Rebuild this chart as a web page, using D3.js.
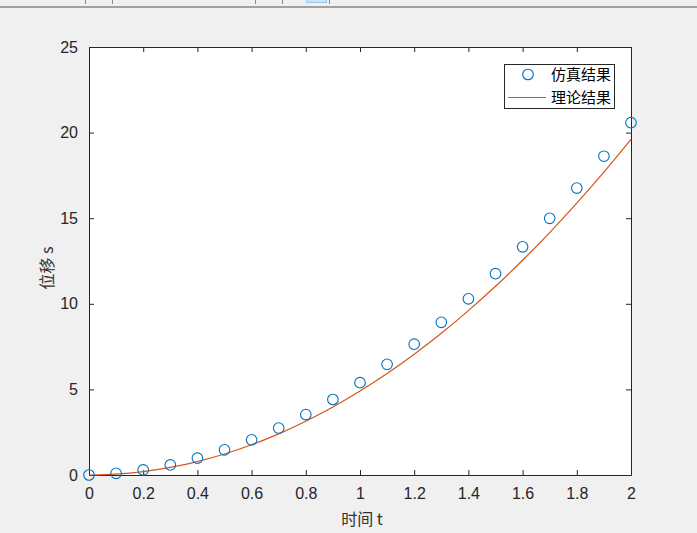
<!DOCTYPE html>
<html>
<head>
<meta charset="utf-8">
<script src="https://cdn.jsdelivr.net/npm/d3@7"></script>
<style>
body{margin:0;background:#f0f0f0;}
svg{display:block;}
</style>
</head>
<body>
<svg id="svg" width="697" height="533"></svg>
<script>
// time samples (s)
var tSim = [0,0.1,0.2,0.3,0.4,0.5,0.6,0.7,0.8,0.9,1.0,1.1,1.2,1.3,1.4,1.5,1.6,1.7,1.8,1.9,2.0];
// simulated displacement, read from the markers
var sSim = [0,0.098,0.294,0.588,0.98,1.47,2.058,2.744,3.528,4.41,5.39,6.468,7.644,8.918,10.29,11.76,13.328,14.994,16.758,18.62,20.58];
// theoretical displacement
var sTheory = [0,0.049,0.196,0.441,0.784,1.225,1.764,2.401,3.136,3.969,4.9,5.929,7.056,8.281,9.604,11.025,12.544,14.161,15.876,17.689,19.6];
var xTicks = [0,0.2,0.4,0.6,0.8,1,1.2,1.4,1.6,1.8,2];
var yTicks = [0,5,10,15,20,25];
var legendNames = ['仿真结果','理论结果'];

var pLeft = 89, pRight = 631, pTop = 47, pBottom = 475;
var axisColor = '#262626', simColor = '#0072bd', lineColor = '#d95319';
var numFont = '"Liberation Sans", Arial, sans-serif';
var cjkFont = '"Noto Sans CJK SC", sans-serif';

var s = d3.select('#svg');

// window toolbar remnants at the top
s.append('rect').attr('x',0).attr('y',6).attr('width',697).attr('height',2).attr('fill','#a0a0a0');
[85,112,255,282,329].forEach(function(x){
    s.append('rect').attr('x',x).attr('y',0).attr('width',1).attr('height',4).attr('fill','#8a8a8a');
});
s.append('rect').attr('x',306.5).attr('y',-1).attr('width',20).attr('height',3.5)
    .attr('fill','#cce4f7').attr('stroke','#99c9ef');

var x = d3.scaleLinear().domain([0,2]).range([pLeft,pRight]);
var y = d3.scaleLinear().domain([0,25]).range([pBottom,pTop]);

// plot area
s.append('rect').attr('x',pLeft).attr('y',pTop).attr('width',pRight-pLeft).attr('height',pBottom-pTop).attr('fill','white');

// axes with inward ticks, mirrored on top and right
function styleAxis(g){
    g.selectAll('path').attr('stroke',axisColor);
    g.selectAll('line').attr('stroke',axisColor);
    g.selectAll('text').attr('fill',axisColor).attr('font-family',numFont).attr('font-size',16);
}
var xAxis = s.append('g').attr('transform','translate(0,'+pBottom+')')
    .call(d3.axisBottom(x).tickValues(xTicks).tickSizeInner(-5).tickSizeOuter(0).tickPadding(13).tickFormat(d3.format('')));
styleAxis(xAxis);
var xTop = s.append('g').attr('transform','translate(0,'+pTop+')')
    .call(d3.axisTop(x).tickValues(xTicks).tickSizeInner(-5).tickSizeOuter(0).tickFormat(''));
styleAxis(xTop);
var yAxis = s.append('g').attr('transform','translate('+pLeft+',0)')
    .call(d3.axisLeft(y).tickValues(yTicks).tickSizeInner(-5).tickSizeOuter(0).tickPadding(11));
styleAxis(yAxis);
var yRight = s.append('g').attr('transform','translate('+pRight+',0)')
    .call(d3.axisRight(y).tickValues(yTicks).tickSizeInner(-5).tickSizeOuter(0).tickFormat(''));
styleAxis(yRight);

// theoretical curve
var theoryLine = d3.line()
    .x(function(d,i){ return x(tSim[i]); })
    .y(function(d){ return y(d); })
    .curve(d3.curveMonotoneX);
s.append('path').datum(sTheory).attr('d',theoryLine)
    .attr('fill','none').attr('stroke',lineColor).attr('stroke-width',1.2);

// simulated markers
s.selectAll('circle.sim').data(sSim).enter().append('circle')
    .attr('class','sim')
    .attr('cx',function(d,i){ return x(tSim[i]); })
    .attr('cy',function(d){ return y(d); })
    .attr('r',5.3)
    .attr('fill','none').attr('stroke',simColor).attr('stroke-width',1.1);

// axis labels
s.append('text').attr('x',362).attr('y',525).attr('text-anchor','middle')
    .attr('font-family',cjkFont).attr('font-size',16).attr('fill','#333').text('时间 t');
s.append('text').attr('transform','translate(53,268) rotate(-90)').attr('text-anchor','middle')
    .attr('font-family',cjkFont).attr('font-size',16).attr('fill','#333').text('位移 s');

// legend
var lg = s.append('g');
lg.append('rect').attr('x',504.5).attr('y',64.5).attr('width',110).attr('height',44)
    .attr('fill','white').attr('stroke',axisColor);
lg.append('circle').attr('cx',528).attr('cy',74.5).attr('r',5.3)
    .attr('fill','none').attr('stroke',simColor).attr('stroke-width',1.1);
lg.append('line').attr('x1',508).attr('x2',546).attr('y1',97.5).attr('y2',97.5)
    .attr('stroke',lineColor).attr('stroke-width',1.2);
legendNames.forEach(function(n,i){
    lg.append('text').attr('x',551).attr('y',80+i*22.5)
        .attr('font-family',cjkFont).attr('font-size',15).attr('fill','#000').text(n);
});
</script>
</body>
</html>
